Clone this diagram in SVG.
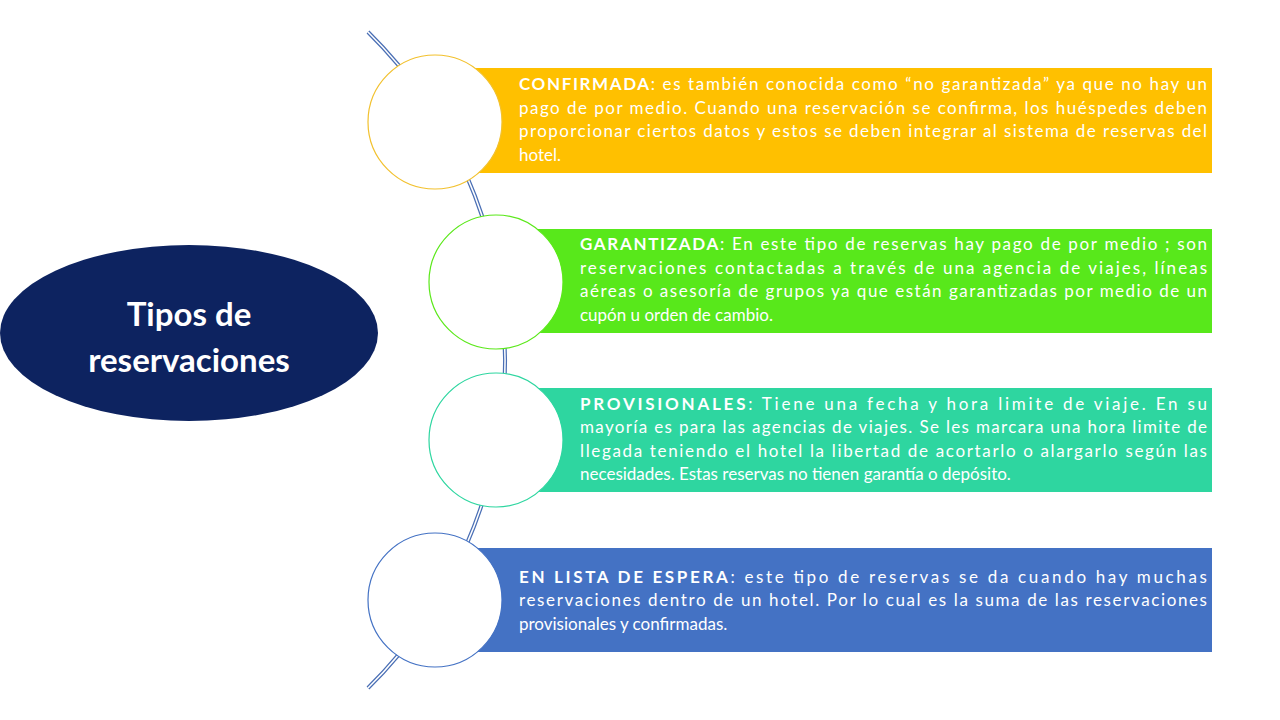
<svg xmlns="http://www.w3.org/2000/svg" width="1280" height="720" viewBox="0 0 1280 720">
<style>
.t{font-family:Lato,"Open Sans",sans-serif;font-size:17px;fill:#fff}
.b{font-weight:bold}
.c{fill:#fff;stroke-width:1.2}
</style>
<rect width="1280" height="720" fill="#fff"/>
<g id="connectors">
<path d="M368,32 A461,461 0 0 1 368,688" fill="none" stroke="#4a6fb5" stroke-width="4"/>
<path d="M368,32 A461,461 0 0 1 368,688" fill="none" stroke="#fff" stroke-width="1.5"/>
</g>
<g id="title">
<ellipse cx="189" cy="333" rx="189" ry="88" fill="#0d2360"/>
<text x="189" y="326" text-anchor="middle" style="font-family:Lato,'Open Sans',sans-serif;font-weight:bold;font-size:33px;fill:#fff">Tipos de</text>
<text x="189" y="372" text-anchor="middle" style="font-family:Lato,'Open Sans',sans-serif;font-weight:bold;font-size:33px;fill:#fff">reservaciones</text>
</g>
<g id="n1">
<rect x="435" y="68" width="777" height="105" fill="#FFC000"/>
<circle cx="435" cy="122" r="67" class="c" stroke="#F2C12E"/>
<text class="t" x="519" y="90" textLength="688" lengthAdjust="spacing"><tspan class="b">CONFIRMADA</tspan>: es también conocida como “no garantizada” ya que no hay un</text>
<text class="t" x="519" y="114" textLength="688" lengthAdjust="spacing">pago de por medio. Cuando una reservación se confirma, los huéspedes deben</text>
<text class="t" x="519" y="137" textLength="688" lengthAdjust="spacing">proporcionar ciertos datos y estos se deben integrar al sistema de reservas del</text>
<text class="t" x="519" y="161">hotel.</text>
</g>
<g id="n2">
<rect x="496" y="229" width="716" height="104" fill="#58E81B"/>
<circle cx="496" cy="282" r="67" class="c" stroke="#5BE81A"/>
<text class="t" x="580" y="250" textLength="627" lengthAdjust="spacing"><tspan class="b">GARANTIZADA</tspan>: En este tipo de reservas hay pago de por medio ; son</text>
<text class="t" x="580" y="274" textLength="627" lengthAdjust="spacing">reservaciones contactadas a través de una agencia de viajes, líneas</text>
<text class="t" x="580" y="297" textLength="627" lengthAdjust="spacing">aéreas o asesoría de grupos ya que están garantizadas por medio de un</text>
<text class="t" x="580" y="321">cupón u orden de cambio.</text>
</g>
<g id="n3">
<rect x="496" y="388" width="716" height="104" fill="#2ED6A0"/>
<circle cx="496" cy="440" r="67" class="c" stroke="#2ED6A0"/>
<text class="t" x="580" y="410" textLength="627" lengthAdjust="spacing"><tspan class="b">PROVISIONALES</tspan>: Tiene una fecha y hora limite de viaje. En su</text>
<text class="t" x="580" y="433" textLength="627" lengthAdjust="spacing">mayoría es para las agencias de viajes. Se les marcara una hora limite de</text>
<text class="t" x="580" y="457" textLength="627" lengthAdjust="spacing">llegada teniendo el hotel la libertad de acortarlo o alargarlo según las</text>
<text class="t" x="580" y="480">necesidades. Estas reservas no tienen garantía  o depósito.</text>
</g>
<g id="n4">
<rect x="435" y="548" width="777" height="104" fill="#4472C4"/>
<circle cx="435" cy="600" r="67" class="c" stroke="#4472C4"/>
<text class="t" x="519" y="583" textLength="688" lengthAdjust="spacing"><tspan class="b">EN LISTA DE ESPERA</tspan>: este tipo de reservas se da cuando hay muchas</text>
<text class="t" x="519" y="606" textLength="688" lengthAdjust="spacing">reservaciones dentro de un hotel. Por lo cual es la suma de las reservaciones</text>
<text class="t" x="519" y="630">provisionales y confirmadas.</text>
</g>
</svg>
